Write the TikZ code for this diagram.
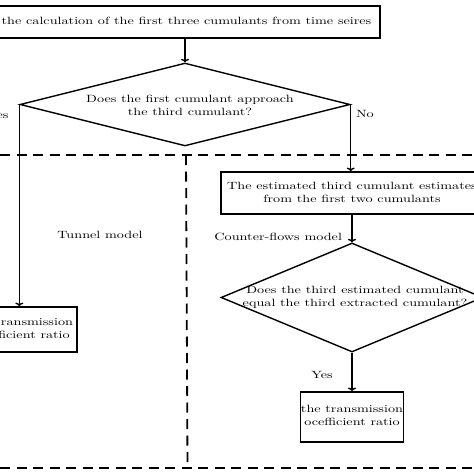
\documentclass[tikz,border=0pt]{standalone}
\usetikzlibrary{shapes.geometric,arrows.meta}
\newcommand{\sx}[1]{\scalebox{1.42}[1.05]{\fontsize{10}{12.6}\selectfont\begin{tabular}{@{}c@{}}#1\end{tabular}}}
\tikzset{
  boxnode/.style={draw, line width=1.8pt, rectangle, inner sep=0pt},
  dianode/.style={draw, line width=1.4pt, diamond, inner sep=0pt},
  txt/.style={inner sep=0pt, outer sep=0pt},
  conn/.style={line width=1.4pt, -{To[length=3.5pt,width=8pt]}},
  sep/.style={line width=1.8pt, dash pattern=on 10pt off 6.5pt},
}
\begin{document}
\begin{tikzpicture}[x=1pt,y=-1pt]
\useasboundingbox (0,0) rectangle (474,474);
\clip (0,0) rectangle (474,474);
% boxes
\node[boxnode, minimum width=390, minimum height=32] (b1) at (185,22) {};
\node[txt] (t1) at (186.5,22) {\sx{the calculation of the first three cumulants from time seires}};
\node[dianode, minimum width=330, minimum height=83] (d1) at (185,104.5) {};
\node[txt] (t2) at (190,106) {\sx{Does the first cumulant approach\\the third cumulant?}};
\node[boxnode, minimum width=262, minimum height=42] (b2) at (352,193) {};
\node[txt] (t3) at (352,193) {\sx{The estimated third cumulant estimates\\from the first two cumulants}};
\node[dianode, minimum width=262, minimum height=109] (d2) at (352,297.5) {};
\node[txt] (t4) at (355,297) {\sx{Does the third estimated cumulant\\equal the third extracted cumulant?}};
\node[boxnode, minimum width=103, minimum height=50] (b4) at (352,417) {};
\node[txt] (t5) at (352,416) {\sx{the transmission\\ocefficient ratio}};
\node[boxnode, minimum width=114, minimum height=45] (b3) at (20,329.5) {};
\node[txt] (t6) at (22,329) {\sx{the transmission\\ocefficient ratio}};
% labels
\node[txt, anchor=east] (lyes1) at (8.5,116) {\sx{Yes}};
\node[txt, anchor=west] (lno) at (356,115) {\sx{No}};
\node[txt] (ltun) at (100,236) {\sx{Tunnel model}};
\node[txt, anchor=east] (lcf) at (342,238) {\sx{Counter-flows model}};
\node[txt] (lyes2) at (322,376) {\sx{Yes}};
% separators
\coordinate (h1a) at (0,155);
\coordinate (h1b) at (474,155);
\coordinate (h2a) at (0,468);
\coordinate (h2b) at (474,468);
\coordinate (v1a) at (186,155);
\coordinate (v1b) at (187.5,468);
\draw[sep] (h1a) -- (h1b);
\draw[sep] (h2a) -- (h2b);
\draw[sep] (v1a) -- (v1b);
% connectors
\draw[conn] (b1.south) -- (d1.north);
\draw[conn] (d1.west) -- (d1.west |- b3.north);
\draw[conn] (d1.east) -- (d1.east |- b2.north);
\draw[conn] (b2.south) -- (d2.north);
\draw[conn] (d2.south) -- (b4.north);
\end{tikzpicture}
\end{document}
